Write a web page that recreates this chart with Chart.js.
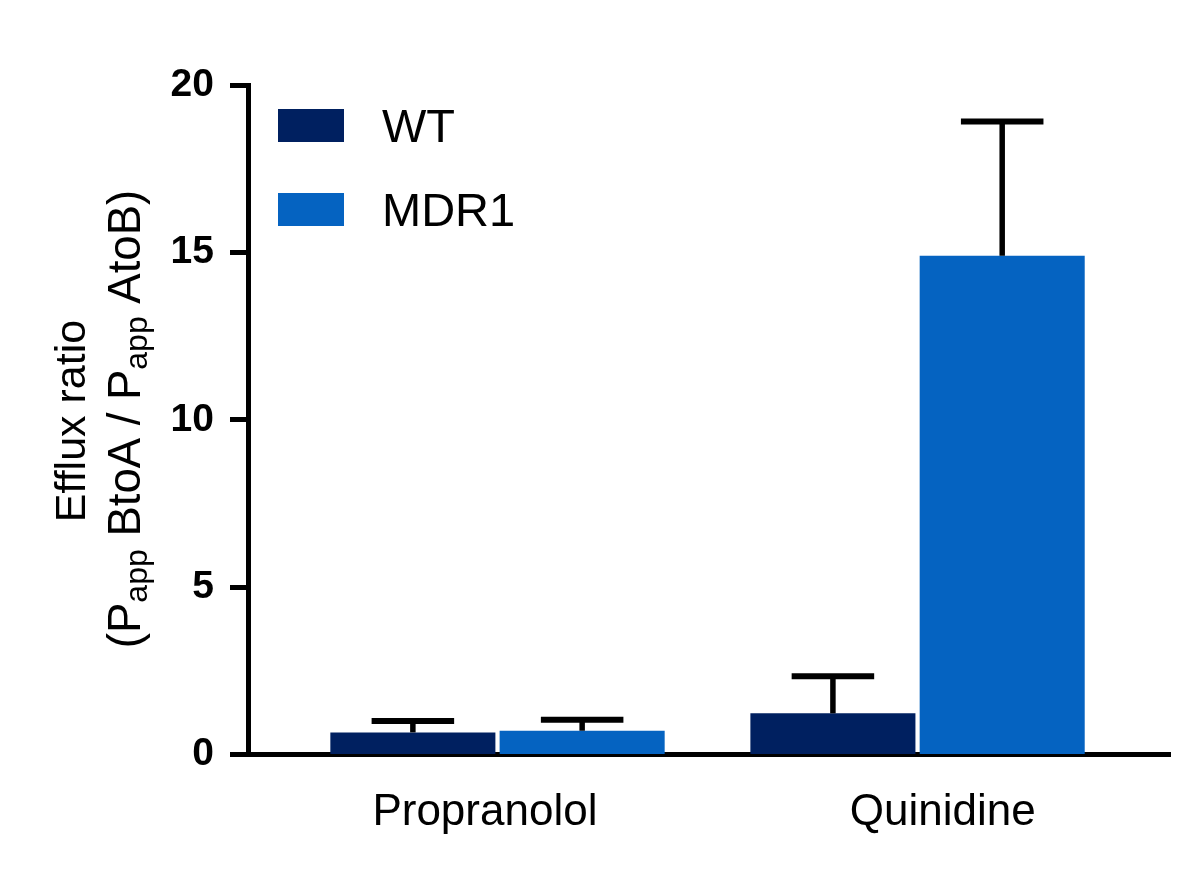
<!DOCTYPE html>
<html><head><meta charset="utf-8">
<script src="https://cdn.jsdelivr.net/npm/chart.js@4.4.0/dist/chart.umd.min.js"></script>
<style>html,body{margin:0;padding:0;background:#fff;overflow:hidden}#wrap{width:1200px;height:878px}</style>
</head><body><div id="wrap"><canvas id="c" width="1200" height="878"></canvas></div>
<script>
// ---- data ----
const categories = ['Propranolol', 'Quinidine'];
const seriesNames = ['WT', 'MDR1'];
const wtMeans = [0.66, 1.23];
const wtErrors = [0.34, 1.11];
const mdr1Means = [0.71, 14.90];
const mdr1Errors = [0.33, 4.01];
const yTickValues = [0, 5, 10, 15, 20];
const yTitleLine1 = 'Efflux ratio';
const yTitleLine2 = [['(P', 'n'], ['app', 's'], [' BtoA / P', 'n'], ['app', 's'], [' AtoB)', 'n']];

// ---- styles ----
const FONT = "'Liberation Sans', Arial, sans-serif";
const colors = ['#002060', '#0563C1'];

function toPoints(vals) { return vals.map((v, i) => ({ x: i, y: v })); }

const errorBars = {
  id: 'errorBars',
  afterDatasetsDraw(chart) {
    const ctx = chart.ctx, ys = chart.scales.y;
    chart.data.datasets.forEach((ds, di) => {
      const meta = chart.getDatasetMeta(di);
      meta.data.forEach((bar, i) => {
        const v = ds.data[i].y, e = ds.errors[i];
        const yTop = ys.getPixelForValue(v + e);
        const yBase = ys.getPixelForValue(v);
        const half = bar.width / 4;
        ctx.save();
        ctx.strokeStyle = '#000';
        ctx.lineCap = 'butt';
        ctx.lineWidth = 5.5;
        ctx.beginPath(); ctx.moveTo(bar.x, yBase); ctx.lineTo(bar.x, yTop); ctx.stroke();
        ctx.lineWidth = 6;
        ctx.beginPath(); ctx.moveTo(bar.x - half, yTop); ctx.lineTo(bar.x + half, yTop); ctx.stroke();
        ctx.restore();
      });
    });
  }
};

const boxLegend = {
  id: 'boxLegend',
  afterDraw(chart) {
    const ctx = chart.ctx, ca = chart.chartArea;
    ctx.save();
    chart.data.datasets.forEach((ds, i) => {
      const bx = ca.left + 30, by = ca.top + 24 + i * 84;
      ctx.fillStyle = ds.backgroundColor;
      ctx.fillRect(bx, by, 66, 33);
      ctx.fillStyle = '#000';
      ctx.font = '47px ' + FONT;
      ctx.textAlign = 'left';
      ctx.textBaseline = 'alphabetic';
      ctx.fillText(ds.label, bx + 104, by + 33);
    });
    ctx.restore();
  }
};

const yTitle = {
  id: 'yTitle',
  afterDraw(chart) {
    const ctx = chart.ctx;
    ctx.save();
    ctx.fillStyle = '#000';
    ctx.save();
    ctx.translate(85, 421);
    ctx.rotate(-Math.PI / 2);
    ctx.font = '43px ' + FONT;
    ctx.textAlign = 'center';
    ctx.textBaseline = 'alphabetic';
    ctx.fillText(yTitleLine1, 0, 0);
    ctx.restore();
    ctx.save();
    ctx.translate(140, 419);
    ctx.rotate(-Math.PI / 2);
    ctx.textAlign = 'left';
    ctx.textBaseline = 'alphabetic';
    const fMain = '45.5px ' + FONT, fSub = '32px ' + FONT;
    let total = 0;
    yTitleLine2.forEach(([t, k]) => { ctx.font = k === 's' ? fSub : fMain; total += ctx.measureText(t).width; });
    let x = -total / 2;
    yTitleLine2.forEach(([t, k]) => {
      ctx.font = k === 's' ? fSub : fMain;
      ctx.fillText(t, x, k === 's' ? 7 : 0);
      x += ctx.measureText(t).width;
    });
    ctx.restore();
    ctx.restore();
  }
};

const labelPositions = [-0.03, 1.06];

new Chart(document.getElementById('c'), {
  type: 'bar',
  data: {
    datasets: [
      { label: seriesNames[0], data: toPoints(wtMeans), errors: wtErrors, backgroundColor: colors[0], borderWidth: 0 },
      { label: seriesNames[1], data: toPoints(mdr1Means), errors: mdr1Errors, backgroundColor: colors[1], borderWidth: 0 }
    ]
  },
  options: {
    responsive: false,
    animation: false,
    devicePixelRatio: 1,
    layout: { padding: { left: 0, right: 30, top: 85, bottom: 0 } },
    datasets: { bar: { categoryPercentage: 0.806, barPercentage: 0.975 } },
    plugins: { legend: { display: false }, tooltip: { enabled: false } },
    scales: {
      x: {
        type: 'linear', min: -0.594, max: 1.601, offset: false,
        grid: { display: false, offset: false },
        border: { display: true, color: '#000', width: 5 },
        afterBuildTicks: s => { s.ticks = labelPositions.map(v => ({ value: v })); },
        ticks: {
          autoSkip: false, maxRotation: 0, minRotation: 0,
          callback: (v, i) => categories[i],
          font: { family: FONT, size: 44 }, color: '#000', padding: 24
        },
        afterFit: s => { s.height = 878 - 754.5; }
      },
      y: {
        min: 0, max: 20,
        afterBuildTicks: s => { s.ticks = yTickValues.map(v => ({ value: v })); },
        grid: { drawOnChartArea: false, drawTicks: true, tickLength: 18, tickWidth: 5, tickColor: '#000' },
        border: { display: true, color: '#000', width: 5 },
        ticks: { font: { family: FONT, size: 39, weight: 'bold' }, color: '#000', padding: 16 },
        afterFit: s => { s.width = 248; }
      }
    }
  },
  plugins: [errorBars, boxLegend, yTitle]
});
</script>
</body></html>
